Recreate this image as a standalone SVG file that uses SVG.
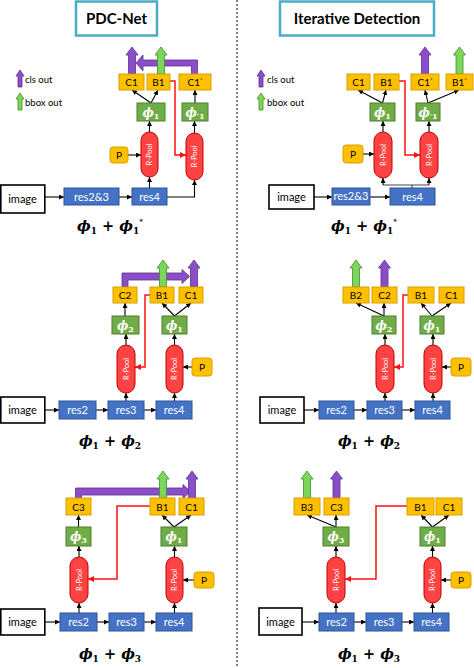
<svg xmlns="http://www.w3.org/2000/svg" xmlns:xlink="http://www.w3.org/1999/xlink" width="474" height="668" viewBox="0 0 474 668">
<defs>
<style>
.hdr{fill:#fff;stroke:#4BACC6;stroke-width:2.5}
.ht{font-family:Lato,"Open Sans",sans-serif;font-weight:bold;font-size:15px;fill:#000;text-anchor:middle}
.o{fill:#FFC000;stroke:#D8A000;stroke-width:1}
.g{fill:#70AD47;stroke:#4E7F30;stroke-width:1}
.b{fill:#4472C4;stroke:#2F5597;stroke-width:1}
.r{fill:#FF4242;stroke:#C00000;stroke-width:1}
.img{fill:#fff;stroke:#000;stroke-width:1.6}
.t{font-family:Lato,"Open Sans",sans-serif;font-size:10px;fill:#000;text-anchor:middle}
.tw{font-family:Lato,"Open Sans",sans-serif;font-size:11px;fill:#fff;text-anchor:middle}
.tr{font-family:Lato,"Open Sans",sans-serif;font-size:7.5px;fill:#fff;text-anchor:middle}
.ti{font-family:Lato,"Open Sans",sans-serif;font-size:11px;fill:#000;text-anchor:middle}
.tp{font-family:"DejaVu Serif","Liberation Serif",serif;font-weight:bold;font-style:italic;font-size:12px;fill:#fff;text-anchor:middle}
.cap{font-family:"DejaVu Serif","Liberation Serif",serif;font-weight:bold;font-size:14.5px;fill:#000;text-anchor:middle}
.lg{font-family:Lato,"Open Sans",sans-serif;font-size:9.5px;fill:#000}
.k{fill:none;stroke:#000;stroke-width:1.1;marker-end:url(#ah)}
.kn{fill:none;stroke:#444;stroke-width:1.1}
.red{fill:none;stroke:#FF1010;stroke-width:1.5;marker-end:url(#rh)}
.pu{fill:#8A4FC8;stroke:#5E2E96;stroke-width:0.8}
.gr{fill:#7BD65A;stroke:#3E8E2A;stroke-width:0.8}
</style>
<marker id="ah" markerWidth="5" markerHeight="5" refX="5" refY="2.5" orient="auto" markerUnits="userSpaceOnUse"><path d="M0,0 L5,2.5 L0,5 Z" fill="#000"/></marker>
<marker id="rh" markerWidth="6" markerHeight="6" refX="6" refY="3" orient="auto" markerUnits="userSpaceOnUse"><path d="M0,0 L6,3 L0,6 Z" fill="#FF1010"/></marker>
<path id="ua" d="M-3.5,0 V-19 H-6 L0,-27 L6,-19 H3.5 V0 Z"/>
<path id="la" d="M-2,0 V-11 H-4 L0,-17 L4,-11 H2 V0 Z"/>
</defs>
<rect width="474" height="668" fill="#fff"/>
<line x1="237" y1="0" x2="237" y2="668" stroke="#000" stroke-width="1" stroke-dasharray="2,2"/>

<!-- ========== TOP LEFT ========== -->
<g id="hdr-pdc"><rect class="hdr" x="76" y="1.5" width="81" height="34"/><text class="ht" x="116.5" y="24">PDC-Net</text></g>
<g id="legend-l">
<use xlink:href="#la" class="pu" x="20" y="87"/><text class="lg" x="25" y="83">cls out</text>
<use xlink:href="#la" class="gr" x="20" y="110"/><text class="lg" x="25" y="106">bbox out</text>
</g>
<g id="conn-tl">
<path class="k" d="M45,197 H64"/>
<path class="k" d="M119,197 H132"/>
<path class="k" d="M149.5,188 V177"/>
<path class="k" d="M167,197 H194.5 V180"/>
<path class="k" d="M128,155 H141"/>
<path class="k" d="M149.5,132 V121"/>
<path class="k" d="M151,103 L132,90"/>
<path class="k" d="M151,103 L158,90"/>
<path class="k" d="M194.5,133 V121"/>
<path class="k" d="M195,103 V90"/>
<path class="red" d="M170,81 H175 V155 H186"/>
<path class="pu" d="M191.5,74 V64 H143 V69 L136,61 L143,53 V58 H197.5 V74 Z" transform="translate(0,2)"/>
<use xlink:href="#ua" class="pu" x="132" y="74"/>
<use xlink:href="#ua" class="gr" x="161" y="74"/>
</g>
<g id="tl-c1"><rect class="o" x="119" y="74" width="25" height="16"/><text class="t" x="131.5" y="86">C1</text></g>
<g id="tl-b1"><rect class="o" x="147" y="74" width="23" height="16"/><text class="t" x="158.5" y="86">B1</text></g>
<g id="tl-c1s"><rect class="o" x="179" y="74" width="32" height="16"/><text class="t" x="195" y="86">C1<tspan font-size="6" dy="-4">*</tspan></text></g>
<g id="tl-phi1"><rect class="g" x="137" y="103" width="28" height="18"/><text class="tp" x="151" y="116.5">ϕ<tspan font-size="8" font-style="normal" dy="2">1</tspan></text></g>
<g id="tl-phi1s"><rect class="g" x="182" y="103" width="26" height="18"/><text class="tp" x="195" y="116.5">ϕ<tspan font-size="8" font-style="normal" dy="2">′1</tspan></text></g>
<g id="tl-rp1"><rect class="r" x="141" y="132" width="17" height="45" rx="8.5"/><text class="tr" transform="translate(152.2,154.5) rotate(-90)">R-Pool</text></g>
<g id="tl-rp2"><rect class="r" x="186" y="133" width="17" height="47" rx="8.5"/><text class="tr" transform="translate(197.2,156.5) rotate(-90)">R-Pool</text></g>
<g id="tl-p"><rect class="o" x="110" y="147" width="18" height="16" rx="3"/><text class="t" x="119" y="159" font-size="11">P</text></g>
<g id="tl-image"><rect class="img" x="0.8" y="185" width="44" height="28"/><text class="ti" x="22.5" y="203">image</text></g>
<g id="tl-res23"><rect class="b" x="64" y="188" width="55" height="17"/><text class="tw" x="91.5" y="200.5">res2&amp;3</text></g>
<g id="tl-res4"><rect class="b" x="132" y="188" width="35" height="17"/><text class="tw" x="149.5" y="200.5">res4</text></g>
<text class="cap" x="110" y="231"><tspan font-style="italic">ϕ</tspan><tspan font-size="9" dy="3">1</tspan><tspan dy="-3"> + </tspan><tspan font-style="italic">ϕ</tspan><tspan font-size="9" dy="3">1</tspan><tspan font-size="7" dy="-10">*</tspan></text>

<!-- ========== TOP RIGHT ========== -->
<g id="hdr-iter"><rect class="hdr" x="280" y="1.5" width="154" height="34"/><text class="ht" x="357" y="24">Iterative Detection</text></g>
<g id="legend-r">
<use xlink:href="#la" class="pu" x="261" y="87"/><text class="lg" x="267" y="83">cls out</text>
<use xlink:href="#la" class="gr" x="261" y="110"/><text class="lg" x="267" y="106">bbox out</text>
</g>
<g id="conn-tr">
<path class="k" d="M314,197 H332"/>
<path class="k" d="M370,197 H390"/>
<path class="kn" d="M412,188 V185 M383,185 H429"/>
<path class="k" d="M383,185 V178"/>
<path class="k" d="M429,185 V178"/>
<path class="k" d="M363,154 H374"/>
<path class="k" d="M383,132 V121"/>
<path class="k" d="M382.5,103 L358,90"/>
<path class="k" d="M382.5,103 L386,90"/>
<path class="k" d="M429,132 V121"/>
<path class="k" d="M428,103 L425,90"/>
<path class="k" d="M428,103 L459,90"/>
<path class="red" d="M399,81 H405 V155 H420"/>
<use xlink:href="#ua" class="pu" x="425" y="74"/>
<use xlink:href="#ua" class="gr" x="459.5" y="74"/>
</g>
<g id="tr-c1"><rect class="o" x="347" y="74" width="23" height="16"/><text class="t" x="358.5" y="86">C1</text></g>
<g id="tr-b1"><rect class="o" x="374" y="74" width="25" height="16"/><text class="t" x="386.5" y="86">B1</text></g>
<g id="tr-c1s"><rect class="o" x="411" y="74" width="28" height="16"/><text class="t" x="425" y="86">C1<tspan font-size="6" dy="-4">*</tspan></text></g>
<g id="tr-b1s"><rect class="o" x="446" y="74" width="27" height="16"/><text class="t" x="459.5" y="86">B1<tspan font-size="6" dy="-4">*</tspan></text></g>
<g id="tr-phi1"><rect class="g" x="370" y="103" width="25" height="18"/><text class="tp" x="382.5" y="116.5">ϕ<tspan font-size="8" font-style="normal" dy="2">1</tspan></text></g>
<g id="tr-phi1s"><rect class="g" x="416" y="103" width="24" height="18"/><text class="tp" x="428" y="116.5">ϕ<tspan font-size="8" font-style="normal" dy="2">′1</tspan></text></g>
<g id="tr-rp1"><rect class="r" x="374" y="132" width="18" height="46" rx="9"/><text class="tr" transform="translate(385.7,155) rotate(-90)">R-Pool</text></g>
<g id="tr-rp2"><rect class="r" x="420" y="132" width="18" height="46" rx="9"/><text class="tr" transform="translate(431.7,155) rotate(-90)">R-Pool</text></g>
<g id="tr-p"><rect class="o" x="343" y="145" width="20" height="18" rx="3"/><text class="t" x="353" y="158" font-size="11">P</text></g>
<g id="tr-image"><rect class="img" x="269" y="185" width="45" height="24"/><text class="ti" x="291.5" y="201">image</text></g>
<g id="tr-res23"><rect class="b" x="332" y="188" width="38" height="17"/><text class="tw" x="351" y="200" font-size="8">res2&amp;3</text></g>
<g id="tr-res4"><rect class="b" x="390" y="188" width="45" height="17"/><text class="tw" x="412.5" y="200.5">res4</text></g>
<text class="cap" x="364" y="231"><tspan font-style="italic">ϕ</tspan><tspan font-size="9" dy="3">1</tspan><tspan dy="-3"> + </tspan><tspan font-style="italic">ϕ</tspan><tspan font-size="9" dy="3">1</tspan><tspan font-size="7" dy="-10">*</tspan></text>

<!-- ========== MIDDLE LEFT ========== -->
<g id="conn-ml">
<path class="k" d="M45,410 H59"/>
<path class="k" d="M96,410 H108"/>
<path class="k" d="M144,410 H156"/>
<path class="k" d="M126,401 V393"/>
<path class="k" d="M174.5,401 V393"/>
<path class="k" d="M192,367 H183"/>
<path class="k" d="M126,345 V334"/>
<path class="k" d="M125,316 V303"/>
<path class="k" d="M174.5,345 V334"/>
<path class="k" d="M174.5,316 L162,303"/>
<path class="k" d="M174.5,316 L191,303"/>
<path class="red" d="M150,295 H145 V367 H135"/>
<path class="pu" d="M122,287 V273 H182 V269.5 L189.5,276.5 L182,283.5 V280 H128 V287 Z"/>
<use xlink:href="#ua" class="pu" x="194" y="287"/>
<use xlink:href="#ua" class="gr" x="163" y="287"/>
</g>
<g id="ml-c2"><rect class="o" x="113" y="287" width="24" height="16"/><text class="t" x="125" y="299">C2</text></g>
<g id="ml-b1"><rect class="o" x="150" y="287" width="24" height="16"/><text class="t" x="162" y="299">B1</text></g>
<g id="ml-c1"><rect class="o" x="179" y="287" width="24" height="16"/><text class="t" x="191" y="299">C1</text></g>
<g id="ml-phi2"><rect class="g" x="112" y="316" width="27" height="18"/><text class="tp" x="125.5" y="329.5">ϕ<tspan font-size="8" font-style="normal" dy="2">2</tspan></text></g>
<g id="ml-phi1"><rect class="g" x="162" y="316" width="25" height="18"/><text class="tp" x="174.5" y="329.5">ϕ<tspan font-size="8" font-style="normal" dy="2">1</tspan></text></g>
<g id="ml-rp1"><rect class="r" x="117" y="345" width="18" height="48" rx="9"/><text class="tr" transform="translate(128.7,369) rotate(-90)">R-Pool</text></g>
<g id="ml-rp2"><rect class="r" x="166" y="345" width="17" height="48" rx="8.5"/><text class="tr" transform="translate(177.2,369) rotate(-90)">R-Pool</text></g>
<g id="ml-p"><rect class="o" x="192" y="358" width="20" height="18" rx="3"/><text class="t" x="202" y="371" font-size="11">P</text></g>
<g id="ml-image"><rect class="img" x="0.8" y="397" width="44" height="26"/><text class="ti" x="22.5" y="414">image</text></g>
<g id="ml-res2"><rect class="b" x="59" y="401" width="37" height="18"/><text class="tw" x="77.5" y="414">res2</text></g>
<g id="ml-res3"><rect class="b" x="108" y="401" width="36" height="18"/><text class="tw" x="126" y="414">res3</text></g>
<g id="ml-res4"><rect class="b" x="156" y="401" width="36" height="18"/><text class="tw" x="174" y="414">res4</text></g>
<text class="cap" x="110" y="446"><tspan font-style="italic">ϕ</tspan><tspan font-size="9" dy="3">1</tspan><tspan dy="-3"> + </tspan><tspan font-style="italic">ϕ</tspan><tspan font-size="9" dy="3">2</tspan></text>

<!-- ========== MIDDLE RIGHT ========== -->
<g id="conn-mr">
<path class="k" d="M304,410 H319"/>
<path class="k" d="M354,410 H367"/>
<path class="k" d="M402,410 H415"/>
<path class="k" d="M385,401 V393"/>
<path class="k" d="M433,401 V393"/>
<path class="k" d="M451,367 H442"/>
<path class="k" d="M385,345 V334"/>
<path class="k" d="M384,316 L356,303"/>
<path class="k" d="M384,316 V303"/>
<path class="k" d="M433,345 V334"/>
<path class="k" d="M432,316 L421,303"/>
<path class="k" d="M432,316 L451,303"/>
<path class="red" d="M408,295 H403 V367 H394"/>
<use xlink:href="#ua" class="gr" x="356" y="287"/>
<use xlink:href="#ua" class="pu" x="384.5" y="287"/>
</g>
<g id="mr-b2"><rect class="o" x="343" y="287" width="26" height="16"/><text class="t" x="356" y="299">B2</text></g>
<g id="mr-c2"><rect class="o" x="372" y="287" width="25" height="16"/><text class="t" x="384.5" y="299">C2</text></g>
<g id="mr-b1"><rect class="o" x="408" y="287" width="26" height="16"/><text class="t" x="421" y="299">B1</text></g>
<g id="mr-c1"><rect class="o" x="439" y="287" width="25" height="16"/><text class="t" x="451.5" y="299">C1</text></g>
<g id="mr-phi2"><rect class="g" x="372" y="316" width="24" height="18"/><text class="tp" x="384" y="329.5">ϕ<tspan font-size="8" font-style="normal" dy="2">2</tspan></text></g>
<g id="mr-phi1"><rect class="g" x="420" y="316" width="24" height="18"/><text class="tp" x="432" y="329.5">ϕ<tspan font-size="8" font-style="normal" dy="2">1</tspan></text></g>
<g id="mr-rp1"><rect class="r" x="376" y="345" width="18" height="48" rx="9"/><text class="tr" transform="translate(387.7,369) rotate(-90)">R-Pool</text></g>
<g id="mr-rp2"><rect class="r" x="424" y="345" width="18" height="48" rx="9"/><text class="tr" transform="translate(435.7,369) rotate(-90)">R-Pool</text></g>
<g id="mr-p"><rect class="o" x="451" y="358" width="20" height="18" rx="3"/><text class="t" x="461" y="371" font-size="11">P</text></g>
<g id="mr-image"><rect class="img" x="260" y="397" width="44" height="26"/><text class="ti" x="282" y="414">image</text></g>
<g id="mr-res2"><rect class="b" x="319" y="401" width="35" height="18"/><text class="tw" x="336.5" y="414">res2</text></g>
<g id="mr-res3"><rect class="b" x="367" y="401" width="35" height="18"/><text class="tw" x="384.5" y="414">res3</text></g>
<g id="mr-res4"><rect class="b" x="415" y="401" width="35" height="18"/><text class="tw" x="432.5" y="414">res4</text></g>
<text class="cap" x="369" y="446"><tspan font-style="italic">ϕ</tspan><tspan font-size="9" dy="3">1</tspan><tspan dy="-3"> + </tspan><tspan font-style="italic">ϕ</tspan><tspan font-size="9" dy="3">2</tspan></text>

<!-- ========== BOTTOM LEFT ========== -->
<g id="conn-bl">
<path class="k" d="M45,622 H60"/>
<path class="k" d="M97,622 H109"/>
<path class="k" d="M144,622 H156"/>
<path class="k" d="M79,613 V603"/>
<path class="k" d="M174.5,613 V603"/>
<path class="k" d="M194,580 H183"/>
<path class="k" d="M79,557 V546"/>
<path class="k" d="M78.5,527 V515"/>
<path class="k" d="M174.5,557 V546"/>
<path class="k" d="M174,527 L162,515"/>
<path class="k" d="M174,527 L191,515"/>
<path class="red" d="M150,506 H117 V579 H88"/>
<path class="pu" d="M75.5,498 V488 H183 V484.5 L190.5,491.5 L183,498.5 V495 H81.5 V498 Z"/>
<use xlink:href="#ua" class="pu" x="192" y="498"/>
<use xlink:href="#ua" class="gr" x="163" y="498"/>
</g>
<g id="bl-c3"><rect class="o" x="66" y="498" width="25" height="17"/><text class="t" x="78.5" y="510.5">C3</text></g>
<g id="bl-b1"><rect class="o" x="150" y="498" width="25" height="17"/><text class="t" x="162.5" y="510.5">B1</text></g>
<g id="bl-c1"><rect class="o" x="179" y="498" width="25" height="17"/><text class="t" x="191.5" y="510.5">C1</text></g>
<g id="bl-phi3"><rect class="g" x="66" y="527" width="25" height="19"/><text class="tp" x="78.5" y="541">ϕ<tspan font-size="8" font-style="normal" dy="2">3</tspan></text></g>
<g id="bl-phi1"><rect class="g" x="161" y="527" width="26" height="19"/><text class="tp" x="174" y="541">ϕ<tspan font-size="8" font-style="normal" dy="2">1</tspan></text></g>
<g id="bl-rp1"><rect class="r" x="70" y="557" width="18" height="46" rx="9"/><text class="tr" transform="translate(81.7,580) rotate(-90)">R-Pool</text></g>
<g id="bl-rp2"><rect class="r" x="166" y="557" width="17" height="46" rx="8.5"/><text class="tr" transform="translate(177.2,580) rotate(-90)">R-Pool</text></g>
<g id="bl-p"><rect class="o" x="194" y="572" width="20" height="16" rx="3"/><text class="t" x="204" y="584" font-size="11">P</text></g>
<g id="bl-image"><rect class="img" x="0.8" y="609" width="44" height="26"/><text class="ti" x="22.5" y="626">image</text></g>
<g id="bl-res2"><rect class="b" x="60" y="613" width="37" height="18"/><text class="tw" x="78.5" y="626">res2</text></g>
<g id="bl-res3"><rect class="b" x="109" y="613" width="35" height="18"/><text class="tw" x="126.5" y="626">res3</text></g>
<g id="bl-res4"><rect class="b" x="156" y="613" width="36" height="18"/><text class="tw" x="174" y="626">res4</text></g>
<text class="cap" x="110" y="659"><tspan font-style="italic">ϕ</tspan><tspan font-size="9" dy="3">1</tspan><tspan dy="-3"> + </tspan><tspan font-style="italic">ϕ</tspan><tspan font-size="9" dy="3">3</tspan></text>

<!-- ========== BOTTOM RIGHT ========== -->
<g id="conn-br">
<path class="k" d="M302,622 H319"/>
<path class="k" d="M354,622 H366"/>
<path class="k" d="M402,622 H414"/>
<path class="k" d="M336,613 V603"/>
<path class="k" d="M432.5,613 V603"/>
<path class="k" d="M451,580 H441"/>
<path class="k" d="M336,557 V546"/>
<path class="k" d="M336,527 L307,515"/>
<path class="k" d="M336,527 V515"/>
<path class="k" d="M432.5,557 V546"/>
<path class="k" d="M432.5,527 L421,515"/>
<path class="k" d="M432.5,527 L449,515"/>
<path class="red" d="M407,506 H376 V579 H345"/>
<use xlink:href="#ua" class="gr" x="307" y="498"/>
<use xlink:href="#ua" class="pu" x="336.5" y="498"/>
</g>
<g id="br-b3"><rect class="o" x="294" y="498" width="26" height="17"/><text class="t" x="307" y="510.5">B3</text></g>
<g id="br-c3"><rect class="o" x="324" y="498" width="25" height="17"/><text class="t" x="336.5" y="510.5">C3</text></g>
<g id="br-b1"><rect class="o" x="407" y="498" width="27" height="17"/><text class="t" x="420.5" y="510.5">B1</text></g>
<g id="br-c1"><rect class="o" x="436" y="498" width="26" height="17"/><text class="t" x="449" y="510.5">C1</text></g>
<g id="br-phi3"><rect class="g" x="323" y="527" width="26" height="19"/><text class="tp" x="336" y="541">ϕ<tspan font-size="8" font-style="normal" dy="2">3</tspan></text></g>
<g id="br-phi1"><rect class="g" x="420" y="527" width="25" height="19"/><text class="tp" x="432.5" y="541">ϕ<tspan font-size="8" font-style="normal" dy="2">1</tspan></text></g>
<g id="br-rp1"><rect class="r" x="327" y="557" width="18" height="46" rx="9"/><text class="tr" transform="translate(338.7,580) rotate(-90)">R-Pool</text></g>
<g id="br-rp2"><rect class="r" x="424" y="557" width="17" height="46" rx="8.5"/><text class="tr" transform="translate(435.2,580) rotate(-90)">R-Pool</text></g>
<g id="br-p"><rect class="o" x="451" y="572" width="20" height="16" rx="3"/><text class="t" x="461" y="584" font-size="11">P</text></g>
<g id="br-image"><rect class="img" x="259" y="608" width="43" height="27"/><text class="ti" x="280.5" y="625.5">image</text></g>
<g id="br-res2"><rect class="b" x="319" y="613" width="35" height="18"/><text class="tw" x="336.5" y="626">res2</text></g>
<g id="br-res3"><rect class="b" x="366" y="613" width="36" height="18"/><text class="tw" x="384" y="626">res3</text></g>
<g id="br-res4"><rect class="b" x="414" y="613" width="35" height="18"/><text class="tw" x="431.5" y="626">res4</text></g>
<text class="cap" x="369" y="659"><tspan font-style="italic">ϕ</tspan><tspan font-size="9" dy="3">1</tspan><tspan dy="-3"> + </tspan><tspan font-style="italic">ϕ</tspan><tspan font-size="9" dy="3">3</tspan></text>
</svg>
